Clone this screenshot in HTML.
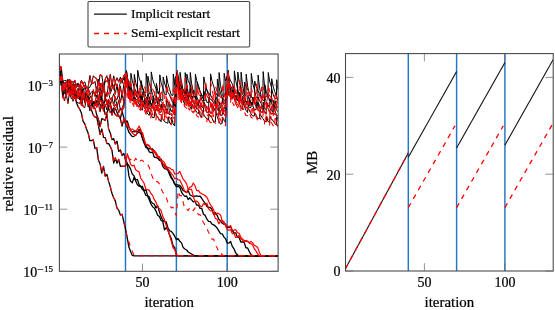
<!DOCTYPE html>
<html><head><meta charset="utf-8"><title>plot</title><style>
html,body{margin:0;padding:0;background:#fff;}
body{width:555px;height:310px;overflow:hidden;}
svg{display:block;}
.t{font-family:"Liberation Serif","DejaVu Serif",serif;font-size:14px;fill:#000;stroke:#000;stroke-width:0.22px;}
.sup{font-size:9px;}
.mn{font-size:11.5px;}
.lgt{font-size:13.4px;}
.al{font-size:14.9px;}
.k{fill:none;stroke:#000;stroke-width:1.0;stroke-linejoin:round;}
.r{fill:none;stroke:#ff0000;stroke-width:1.1;stroke-dasharray:5 5;stroke-linejoin:round;}
.rs{fill:none;stroke:#ff0000;stroke-width:1.2;stroke-linejoin:round;}
.kc{stroke-width:1.3;}
.k2{fill:none;stroke:#111;stroke-width:1.1;}
.r2{fill:none;stroke:#ff0000;stroke-width:1.3;stroke-dasharray:5 5;}
.bl{stroke:#1f77c6;stroke-width:1.45;}
.fr{fill:none;stroke:#444;stroke-width:1.05;}
.tk{stroke:#666;stroke-width:0.7;}
.lg{fill:#fff;stroke:#444;stroke-width:1.05;}
</style></head><body>
<svg width="555" height="310" viewBox="0 0 555 310">
<defs><clipPath id="cl"><rect x="59.4" y="54.0" width="218.7" height="217.3"/></clipPath>
<clipPath id="cr"><rect x="345.5" y="53.6" width="207.7" height="217.4"/></clipPath></defs>
<g clip-path="url(#cl)">
<line class="bl" x1="125.5" y1="54.0" x2="125.5" y2="271.3"/>
<line class="bl" x1="176.4" y1="54.0" x2="176.4" y2="271.3"/>
<line class="bl" x1="227.2" y1="54.0" x2="227.2" y2="271.3"/>
<polyline class="k" points="59.4,66.1 61.1,79.8 62.8,81.3 64.5,80.5 66.2,80.6 67.9,89.1 69.6,80.4 71.3,86.6 73.0,85.4 74.7,80.2 76.4,85.4 78.0,86.4 79.7,86.3 81.4,80.3 83.1,84.3 84.8,88.3 86.5,87.4 88.2,86.7 89.9,75.6 91.6,84.5 93.3,75.7 95.0,77.5 96.7,78.7 98.4,86.0 100.1,74.8 101.8,75.6 103.5,86.4 105.2,79.3 106.9,75.6 108.6,84.6 110.3,74.4 112.0,86.1 113.7,75.8 115.3,82.1 117.0,77.7 118.7,82.0 120.4,77.1 122.1,83.2 123.8,75.7 126.5,72.7 127.2,80.4 128.9,86.4 130.6,91.5 130.9,73.3 132.3,80.9 134.0,86.5 135.7,91.3 137.4,93.3 137.7,70.3 139.1,77.8 140.8,83.0 142.5,88.9 144.2,93.1 145.9,92.8 146.2,73.5 147.6,84.3 149.3,93.9 150.9,94.0 151.3,71.9 152.6,79.2 154.3,84.3 156.0,88.5 157.7,93.3 159.4,93.8 159.8,74.8 161.1,82.8 162.8,87.8 164.5,93.5 166.2,95.0 166.5,75.8 167.9,83.5 169.6,89.3 171.3,95.1 173.0,95.4 173.3,74.0 174.7,85.2 177.4,71.9 178.1,82.5 179.8,92.6 180.1,72.3 181.5,82.6 183.2,91.7 184.9,93.9 185.2,72.6 186.6,83.4 188.2,92.8 189.9,92.7 190.3,72.5 191.6,83.8 193.3,91.7 195.0,94.4 195.4,74.1 196.7,80.8 198.4,85.3 200.1,91.2 201.8,95.8 203.5,96.0 203.8,76.9 205.2,84.3 206.9,90.4 208.6,95.2 210.3,94.9 210.6,73.9 212.0,81.2 213.7,86.4 215.4,92.7 217.1,95.0 218.8,96.3 219.1,72.5 220.5,85.3 222.2,94.2 223.8,97.4 224.2,73.3 225.5,81.0 228.3,73.9 228.9,81.9 230.6,85.8 232.3,89.6 234.0,93.9 234.4,70.9 235.7,80.3 237.4,88.3 239.1,94.0 240.8,96.5 241.1,72.2 242.5,84.7 244.2,94.4 245.9,95.6 246.2,74.1 247.6,86.0 249.3,94.6 251.0,97.9 251.3,73.4 252.7,82.9 254.4,89.9 256.1,96.7 257.8,99.0 258.1,75.1 259.5,87.1 261.1,96.2 262.8,98.1 263.2,71.6 264.5,85.7 266.2,95.6 267.9,98.4 268.3,72.5 269.6,81.0 271.3,86.8 273.0,94.1 274.7,98.4 276.4,98.9 276.7,79.7 278.1,89.9"/>
<polyline class="k" points="59.4,66.1 61.1,82.3 62.8,90.5 64.5,82.7 66.2,84.2 67.9,80.0 69.6,91.7 71.3,81.4 73.0,82.2 74.7,80.5 76.4,87.4 78.0,82.9 79.7,88.3 81.4,81.1 83.1,83.3 84.8,81.9 86.5,88.2 88.2,88.8 89.9,87.1 91.6,83.3 93.3,83.4 95.0,81.5 96.7,91.2 98.4,79.3 100.1,90.1 101.8,83.3 103.5,89.3 105.2,81.4 106.9,81.1 108.6,78.8 110.3,90.7 112.0,81.9 113.7,89.3 115.3,81.8 117.0,88.5 118.7,91.1 120.4,81.5 122.1,78.2 123.8,80.1 126.5,71.4 127.2,76.5 128.9,82.9 130.6,87.4 132.3,90.3 134.0,94.1 134.3,74.4 135.7,82.5 137.4,88.6 139.1,95.1 140.8,97.3 141.1,80.6 142.5,87.2 144.2,91.9 145.9,96.5 147.6,99.5 147.9,76.2 149.3,83.6 150.9,88.4 152.6,94.5 154.3,99.1 156.0,99.5 156.4,83.4 157.7,90.3 159.4,95.0 161.1,99.6 162.8,100.5 163.2,77.0 164.5,83.0 166.2,88.1 167.9,92.2 169.6,94.9 171.3,99.7 173.0,102.8 174.7,102.1 175.0,78.4 177.4,73.3 178.1,79.9 179.8,83.4 181.5,87.1 183.2,89.9 184.9,92.5 186.6,95.7 186.9,74.1 188.2,80.5 189.9,84.5 191.6,89.8 193.3,94.3 195.0,97.4 196.7,100.2 197.1,81.8 198.4,87.7 200.1,92.2 201.8,95.9 203.5,99.9 205.2,100.5 205.5,86.0 206.9,89.8 208.6,93.3 210.3,94.4 212.0,98.0 213.7,99.6 215.4,103.1 217.1,104.0 217.4,79.0 218.8,86.8 220.5,93.2 222.2,98.1 223.8,103.7 225.5,102.7 225.9,81.4 228.3,72.0 228.9,76.9 230.6,80.9 232.3,83.9 234.0,88.9 235.7,92.6 237.4,93.8 237.8,72.1 239.1,81.4 240.8,87.7 242.5,94.8 244.2,95.9 244.5,82.0 245.9,86.3 247.6,89.3 249.3,92.6 251.0,95.8 252.7,98.4 254.4,98.7 254.7,81.0 256.1,86.2 257.8,90.6 259.5,93.5 261.1,97.1 262.8,100.4 264.5,100.3 264.9,84.8 266.2,91.2 267.9,95.9 269.6,100.2 271.3,102.3 271.7,78.7 273.0,86.1 274.7,91.4 276.4,96.5 278.1,100.9"/>
<polyline class="k" points="59.4,66.1 61.1,82.1 62.8,84.5 64.5,93.8 66.2,93.5 67.9,83.4 69.6,85.9 71.3,94.2 73.0,85.2 74.7,90.4 76.4,92.3 78.0,94.1 79.7,84.8 81.4,85.9 83.1,94.9 84.8,85.1 86.5,93.4 88.2,87.3 89.9,94.7 91.6,91.7 93.3,91.4 95.0,95.4 96.7,91.5 98.4,91.9 100.1,83.1 101.8,94.1 103.5,85.2 105.2,93.5 106.9,96.5 108.6,83.6 110.3,93.6 112.0,88.6 113.7,85.1 115.3,94.2 117.0,84.1 118.7,96.7 120.4,86.1 122.1,97.3 123.8,84.4 126.5,70.7 127.2,81.8 128.9,88.7 130.6,94.8 130.9,86.0 132.3,94.0 134.0,95.2 134.3,92.3 135.7,94.9 137.4,97.6 139.1,97.9 139.4,94.8 140.8,98.8 142.5,100.2 142.8,91.7 144.2,96.5 145.9,99.8 147.6,102.5 147.9,93.1 149.3,98.1 150.9,103.2 152.6,104.6 153.0,96.0 154.3,102.7 156.0,103.4 156.4,96.1 157.7,103.4 159.4,104.4 159.8,98.7 161.1,101.3 162.8,103.9 164.5,105.7 166.2,106.7 166.5,99.9 167.9,102.5 169.6,104.4 171.3,107.0 173.0,107.4 173.3,99.5 174.7,106.1 177.4,70.5 178.1,80.3 179.8,87.2 181.5,93.6 181.8,85.7 183.2,90.4 184.9,94.5 186.6,95.7 186.9,86.8 188.2,95.4 189.9,97.0 190.3,88.6 191.6,96.7 193.3,97.9 193.7,90.2 195.0,93.8 196.7,97.2 198.4,100.7 200.1,100.9 200.5,95.2 201.8,100.2 203.5,101.2 203.8,91.0 205.2,96.7 206.9,102.4 208.6,102.4 208.9,97.0 210.3,99.3 212.0,100.1 213.7,103.3 215.4,102.8 215.7,96.5 217.1,99.4 218.8,102.5 220.5,103.7 222.2,104.2 222.5,97.1 223.8,100.0 225.5,101.8 228.3,74.4 228.9,95.5 229.3,91.5 230.6,93.5 232.3,95.0 234.0,97.2 235.7,98.5 236.1,94.8 237.4,98.9 239.1,101.3 239.4,96.2 240.8,100.2 242.5,101.9 242.8,96.1 244.2,99.2 245.9,101.8 247.6,102.9 247.9,95.4 249.3,99.6 251.0,102.1 252.7,105.1 253.0,97.5 254.4,101.2 256.1,105.3 257.8,105.2 258.1,97.0 259.5,100.4 261.1,103.5 262.8,106.9 264.5,105.9 264.9,95.8 266.2,101.5 267.9,104.8 269.6,106.4 270.0,98.7 271.3,103.2 273.0,105.9 274.7,107.2 275.0,100.5 276.4,106.6 278.1,107.3"/>
<polyline class="k" points="59.4,66.1 61.1,80.4 62.8,85.0 64.5,84.6 66.2,92.7 67.9,87.8 69.6,94.7 71.3,85.9 73.0,93.8 74.7,86.5 76.4,96.9 78.0,88.3 79.7,95.4 81.4,86.0 83.1,88.3 84.8,97.2 86.5,90.8 88.2,90.4 89.9,95.7 91.6,98.5 93.3,89.7 95.0,96.6 96.7,87.4 98.4,100.1 100.1,90.3 101.8,98.5 103.5,88.2 105.2,96.9 106.9,92.4 108.6,93.0 110.3,99.5 112.0,98.9 113.7,93.7 115.3,98.5 117.0,99.6 118.7,93.5 120.4,102.7 122.1,92.2 123.8,103.4 126.5,71.4 127.2,85.8 128.9,95.2 129.2,86.0 130.6,91.1 132.3,95.1 134.0,99.0 134.3,90.8 135.7,94.1 137.4,97.7 139.1,100.6 140.8,102.2 141.1,95.6 142.5,99.3 144.2,103.1 145.9,104.2 146.2,100.0 147.6,104.1 149.3,105.2 149.6,97.2 150.9,104.7 152.6,105.6 153.0,99.6 154.3,103.5 156.0,106.8 157.7,106.9 158.1,97.7 159.4,103.3 161.1,108.7 162.8,108.6 163.2,104.4 164.5,107.0 166.2,109.2 167.9,110.2 168.2,102.6 169.6,106.7 171.3,111.2 173.0,110.5 173.3,100.9 174.7,106.2 177.4,72.6 178.1,82.9 179.8,89.4 181.5,97.8 181.8,88.8 183.2,96.7 184.9,99.4 185.2,90.3 186.6,98.8 188.2,101.1 188.6,93.1 189.9,96.6 191.6,100.1 193.3,102.4 195.0,104.0 195.4,95.8 196.7,103.8 198.4,105.9 198.8,99.9 200.1,103.3 201.8,107.2 203.5,108.1 203.8,101.6 205.2,105.0 206.9,108.0 208.6,109.0 208.9,98.8 210.3,103.0 212.0,106.3 213.7,108.4 215.4,109.7 215.7,102.2 217.1,109.5 218.8,110.7 219.1,102.1 220.5,106.9 222.2,111.4 223.8,111.6 224.2,106.7 225.5,108.8 228.3,74.2 228.9,85.1 230.6,91.9 232.3,98.4 232.7,89.3 234.0,93.1 235.7,97.4 237.4,99.4 239.1,102.1 239.4,92.5 240.8,97.8 242.5,102.9 244.2,103.0 244.5,96.5 245.9,100.8 247.6,105.1 249.3,106.0 249.6,97.9 251.0,105.2 252.7,105.7 253.0,97.3 254.4,102.6 256.1,106.4 257.8,109.0 258.1,102.5 259.5,105.7 261.1,108.2 262.8,110.0 263.2,102.0 264.5,108.5 266.2,109.5 266.6,102.5 267.9,105.6 269.6,107.4 271.3,110.9 273.0,111.4 273.4,100.3 274.7,106.0 276.4,109.8 278.1,111.8"/>
<polyline class="k" points="59.4,66.1 61.1,82.5 62.8,97.9 64.5,87.8 66.2,96.8 67.9,89.7 69.6,92.0 71.3,98.8 73.0,98.0 74.7,88.4 76.4,98.9 78.0,97.4 79.7,100.0 81.4,90.1 83.1,92.9 84.8,103.2 86.5,92.5 88.2,94.1 89.9,103.5 91.6,100.4 93.3,101.3 95.0,102.2 96.7,94.9 98.4,103.4 100.1,94.8 101.8,104.6 103.5,103.7 105.2,95.5 106.9,104.8 108.6,99.4 110.3,105.7 112.0,97.4 113.7,105.6 115.3,96.8 117.0,107.2 118.7,100.1 120.4,110.1 122.1,108.5 123.8,103.0 126.5,74.5 127.2,86.9 128.9,98.6 129.2,94.0 130.6,96.6 132.3,100.7 134.0,100.6 134.3,96.6 135.7,98.9 137.4,100.6 139.1,104.3 140.8,105.4 141.1,96.4 142.5,104.8 144.2,105.8 144.5,98.5 145.9,106.4 147.6,109.1 147.9,100.0 149.3,107.7 150.9,110.7 151.3,103.9 152.6,107.2 154.3,110.5 156.0,110.8 156.4,105.7 157.7,108.8 159.4,112.2 161.1,112.2 161.5,103.9 162.8,108.6 164.5,112.0 166.2,113.4 166.5,108.8 167.9,113.1 169.6,114.9 169.9,108.8 171.3,111.0 173.0,111.7 174.7,114.9 177.4,72.1 178.1,81.2 179.8,91.0 181.5,98.4 181.8,92.2 183.2,95.8 184.9,100.3 186.6,101.2 186.9,94.5 188.2,99.1 189.9,104.5 191.6,106.6 192.0,96.0 193.3,101.5 195.0,105.4 196.7,109.3 197.1,101.7 198.4,104.6 200.1,107.0 201.8,111.2 203.5,112.5 203.8,103.0 205.2,107.7 206.9,112.8 208.6,112.5 208.9,108.3 210.3,112.9 212.0,113.3 212.3,103.9 213.7,108.2 215.4,111.5 217.1,113.9 218.8,115.3 219.1,107.5 220.5,114.9 222.2,115.4 222.5,111.8 223.8,114.4 225.5,115.7 228.3,70.5 228.9,81.4 230.6,88.4 232.3,97.0 232.7,89.7 234.0,93.7 235.7,98.4 237.4,99.5 237.8,92.3 239.1,97.0 240.8,100.9 242.5,102.7 242.8,99.4 244.2,103.8 245.9,105.5 246.2,101.2 247.6,103.9 249.3,107.8 251.0,107.5 251.3,102.2 252.7,105.6 254.4,109.7 256.1,109.8 256.4,101.0 257.8,104.8 259.5,107.7 261.1,112.2 262.8,112.2 263.2,107.5 264.5,111.8 266.2,113.5 266.6,104.8 267.9,108.2 269.6,110.8 271.3,113.7 273.0,113.7 273.4,104.1 274.7,109.7 276.4,115.4 278.1,115.9"/>
<polyline class="k" points="59.4,66.1 61.1,80.2 62.8,92.6 64.5,101.0 66.2,93.6 67.9,103.4 69.6,91.7 71.3,91.7 73.0,101.3 74.7,96.7 76.4,101.7 78.0,102.8 79.7,103.5 81.4,98.6 83.1,106.5 84.8,107.7 86.5,96.5 88.2,107.0 89.9,96.8 91.6,97.0 93.3,108.6 95.0,102.7 96.7,107.3 98.4,103.4 100.1,111.7 101.8,101.6 103.5,111.2 105.2,104.3 106.9,109.9 108.6,101.8 110.3,102.3 112.0,115.3 113.7,107.9 115.3,104.8 117.0,106.0 118.7,112.7 120.4,108.1 122.1,110.4 123.8,107.5 126.5,70.8 127.2,82.1 128.9,90.9 130.6,98.0 130.9,95.1 132.3,99.6 134.0,101.6 134.3,95.6 135.7,100.2 137.4,106.3 139.1,106.6 139.4,103.8 140.8,108.4 142.5,110.2 142.8,104.3 144.2,107.4 145.9,110.3 147.6,113.9 149.3,115.3 149.6,111.7 150.9,114.2 152.6,117.7 154.3,117.4 154.7,110.7 156.0,114.0 157.7,117.5 159.4,119.0 161.1,121.7 161.5,117.1 162.8,119.1 164.5,121.7 166.2,122.6 167.9,123.2 168.2,116.8 169.6,123.1 171.3,123.9 171.6,117.1 173.0,123.9 174.7,126.0 175.0,115.1 177.4,72.6 178.1,87.6 179.8,98.1 180.1,93.1 181.5,96.5 183.2,100.7 184.9,104.7 185.2,97.6 186.6,100.6 188.2,104.5 189.9,106.6 191.6,109.3 192.0,104.2 193.3,106.9 195.0,109.3 196.7,112.2 198.4,113.9 198.8,109.8 200.1,114.7 201.8,117.6 202.1,112.4 203.5,114.4 205.2,116.9 206.9,119.0 208.6,120.1 208.9,113.7 210.3,116.3 212.0,118.2 213.7,122.3 215.4,121.8 215.7,111.8 217.1,116.2 218.8,120.9 220.5,124.2 222.2,123.3 222.5,116.9 223.8,119.9 225.5,122.7 228.3,70.6 228.9,82.0 230.6,88.5 232.3,96.7 232.7,89.4 234.0,98.5 235.7,101.9 236.1,97.9 237.4,100.2 239.1,102.4 240.8,107.2 242.5,109.5 242.8,101.6 244.2,106.0 245.9,110.0 247.6,112.5 247.9,107.7 249.3,110.1 251.0,113.8 252.7,116.1 254.4,115.9 254.7,112.7 256.1,115.2 257.8,118.8 259.5,118.6 259.8,113.5 261.1,116.0 262.8,118.5 264.5,121.1 266.2,122.0 266.6,116.0 267.9,121.3 269.6,122.5 270.0,116.9 271.3,119.4 273.0,120.4 274.7,123.2 276.4,125.3 276.7,116.6 278.1,119.8"/>
<polyline class="k kc" points="59.4,66.1 61.1,79.3 62.8,85.6 64.5,85.4 66.2,84.0 67.9,79.5 69.6,84.6 71.3,94.5 73.0,94.0 74.7,93.6 76.4,102.5 78.0,106.5 79.7,109.2 81.4,113.1 83.1,121.3 84.8,123.9 86.5,128.9 88.2,133.3 89.9,140.7 91.6,140.6 93.3,139.8 95.0,148.7 96.7,147.7 98.4,159.9 100.1,163.9 101.8,173.2 103.5,166.3 105.2,176.2 106.9,174.5 108.6,181.4 110.3,186.8 112.0,193.5 113.7,197.7 115.3,200.9 117.0,208.1 118.7,210.1 120.4,215.0 122.1,214.3 123.8,221.8 125.5,229.0 127.2,237.7 128.9,247.1 130.6,251.5 132.3,255.4 134.0,255.8 135.7,255.8 137.4,255.8 139.1,255.8 140.8,255.8 142.5,255.8 144.2,255.8 145.9,255.8 147.6,255.8 149.3,255.8 150.9,255.8 152.6,255.8 154.3,255.8 156.0,255.8 157.7,255.8 159.4,255.8 161.1,255.8 162.8,255.8 164.5,255.8 166.2,255.8 167.9,255.8 169.6,255.8 171.3,255.8 173.0,255.8 174.7,255.8 176.4,255.8 178.1,255.8 179.8,255.8 181.5,255.8 183.2,255.8 184.9,255.8 186.6,255.8 188.2,255.8 189.9,255.8 191.6,255.8 193.3,255.8 195.0,255.8 196.7,255.8 198.4,255.8 200.1,255.8 201.8,255.8 203.5,255.8 205.2,255.8 206.9,255.8 208.6,255.8 210.3,255.8 212.0,255.8 213.7,255.8 215.4,255.8 217.1,255.8 218.8,255.8 220.5,255.8 222.2,255.8 223.8,255.8 225.5,255.8 227.2,255.8 228.9,255.8 230.6,255.8 232.3,255.8 234.0,255.8 235.7,255.8 237.4,255.8 239.1,255.8 240.8,255.8 242.5,255.8 244.2,255.8 245.9,255.8 247.6,255.8 249.3,255.8 251.0,255.8 252.7,255.8 254.4,255.8 256.1,255.8 257.8,255.8 259.5,255.8 261.1,255.8 262.8,255.8 264.5,255.8 266.2,255.8 267.9,255.8 269.6,255.8 271.3,255.8 273.0,255.8 274.7,255.8 276.4,255.8 278.1,255.8"/>
<polyline class="k kc" points="59.4,66.1 61.1,84.9 62.8,83.1 64.5,85.1 66.2,82.2 67.9,82.6 69.6,79.6 71.3,81.6 73.0,90.5 74.7,90.9 76.4,94.4 78.0,92.5 79.7,96.5 81.4,88.4 83.1,99.4 84.8,99.2 86.5,96.5 88.2,100.4 89.9,105.7 91.6,110.4 93.3,115.1 95.0,117.1 96.7,117.1 98.4,125.6 100.1,134.4 101.8,128.9 103.5,137.4 105.2,137.6 106.9,143.5 108.6,143.7 110.3,146.6 112.0,150.6 113.7,163.0 115.3,157.8 117.0,163.2 118.7,159.3 120.4,166.3 122.1,166.1 123.8,166.4 125.5,165.9 127.2,163.3 128.9,165.8 130.6,169.1 132.3,174.1 134.0,175.8 135.7,180.0 137.4,179.4 139.1,184.7 140.8,186.3 142.5,189.7 144.2,190.5 145.9,189.6 147.6,195.6 149.3,196.9 150.9,201.6 152.6,203.3 154.3,204.2 156.0,208.0 157.7,205.6 159.4,211.8 161.1,216.9 162.8,220.2 164.5,221.6 166.2,221.9 167.9,227.8 169.6,230.8 171.3,231.3 173.0,233.4 174.7,236.2 176.4,239.6 178.1,238.6 179.8,241.3 181.5,242.9 183.2,247.6 184.9,249.0 186.6,250.0 188.2,252.0 189.9,253.0 191.6,254.0 193.3,255.1 195.0,255.8 196.7,255.8 198.4,255.8 200.1,255.8 201.8,255.8 203.5,255.8 205.2,255.8 206.9,255.8 208.6,255.8 210.3,255.8 212.0,255.8 213.7,255.8 215.4,255.8 217.1,255.8 218.8,255.8 220.5,255.8 222.2,255.8 223.8,255.8 225.5,255.8 227.2,255.8 228.9,255.8 230.6,255.8 232.3,255.8 234.0,255.8 235.7,255.8 237.4,255.8 239.1,255.8 240.8,255.8 242.5,255.8 244.2,255.8 245.9,255.8 247.6,255.8 249.3,255.8 251.0,255.8 252.7,255.8 254.4,255.8 256.1,255.8 257.8,255.8 259.5,255.8 261.1,255.8 262.8,255.8 264.5,255.8 266.2,255.8 267.9,255.8 269.6,255.8 271.3,255.8 273.0,255.8 274.7,255.8 276.4,255.8 278.1,255.8"/>
<polyline class="k kc" points="59.4,66.1 61.1,76.6 62.8,84.7 64.5,85.8 66.2,86.5 67.9,87.8 69.6,87.9 71.3,82.8 73.0,89.2 74.7,98.2 76.4,97.9 78.0,94.9 79.7,98.5 81.4,101.6 83.1,92.3 84.8,97.8 86.5,99.0 88.2,99.8 89.9,102.4 91.6,102.7 93.3,107.2 95.0,108.2 96.7,114.8 98.4,119.1 100.1,126.7 101.8,118.6 103.5,119.4 105.2,120.4 106.9,114.0 108.6,129.0 110.3,132.9 112.0,139.7 113.7,138.6 115.3,144.0 117.0,141.2 118.7,151.4 120.4,149.9 122.1,155.5 123.8,153.4 125.5,159.8 127.2,163.0 128.9,175.9 130.6,181.3 132.3,182.9 134.0,177.4 135.7,181.1 137.4,184.7 139.1,186.2 140.8,186.6 142.5,186.5 144.2,191.5 145.9,195.4 147.6,196.0 149.3,199.7 150.9,204.0 152.6,206.7 154.3,208.0 156.0,211.1 157.7,215.2 159.4,216.6 161.1,220.5 162.8,221.5 164.5,229.9 166.2,227.7 167.9,230.3 169.6,234.7 171.3,238.8 173.0,245.4 174.7,247.7 176.4,254.8 178.1,255.8 179.8,255.8 181.5,255.8 183.2,255.8 184.9,255.8 186.6,255.8 188.2,255.8 189.9,255.8 191.6,255.8 193.3,255.8 195.0,255.8 196.7,255.8 198.4,255.8 200.1,255.8 201.8,255.8 203.5,255.8 205.2,255.8 206.9,255.8 208.6,255.8 210.3,255.8 212.0,255.8 213.7,255.8 215.4,255.8 217.1,255.8 218.8,255.8 220.5,255.8 222.2,255.8 223.8,255.8 225.5,255.8 227.2,255.8 228.9,255.8 230.6,255.8 232.3,255.8 234.0,255.8 235.7,255.8 237.4,255.8 239.1,255.8 240.8,255.8 242.5,255.8 244.2,255.8 245.9,255.8 247.6,255.8 249.3,255.8 251.0,255.8 252.7,255.8 254.4,255.8 256.1,255.8 257.8,255.8 259.5,255.8 261.1,255.8 262.8,255.8 264.5,255.8 266.2,255.8 267.9,255.8 269.6,255.8 271.3,255.8 273.0,255.8 274.7,255.8 276.4,255.8 278.1,255.8"/>
<polyline class="k kc" points="59.4,66.1 61.1,67.0 62.8,81.0 64.5,85.8 66.2,83.8 67.9,86.0 69.6,94.2 71.3,89.6 73.0,94.4 74.7,87.4 76.4,93.6 78.0,91.2 79.7,90.0 81.4,92.2 83.1,99.5 84.8,99.1 86.5,100.3 88.2,100.5 89.9,110.6 91.6,103.5 93.3,103.1 95.0,105.5 96.7,100.7 98.4,104.0 100.1,101.2 101.8,98.3 103.5,105.2 105.2,99.5 106.9,100.1 108.6,107.5 110.3,105.0 112.0,109.2 113.7,111.5 115.3,107.9 117.0,112.6 118.7,115.9 120.4,118.5 122.1,110.8 123.8,118.1 125.5,121.3 127.2,121.0 128.9,126.2 130.6,130.7 132.3,131.7 134.0,131.8 135.7,131.5 137.4,132.1 139.1,129.4 140.8,131.2 142.5,139.1 144.2,142.8 145.9,145.4 147.6,148.0 149.3,148.6 150.9,149.2 152.6,148.9 154.3,151.7 156.0,153.3 157.7,156.6 159.4,160.5 161.1,159.2 162.8,164.1 164.5,165.2 166.2,166.6 167.9,169.2 169.6,172.7 171.3,176.7 173.0,180.1 174.7,183.9 176.4,186.7 178.1,186.4 179.8,187.3 181.5,192.1 183.2,194.6 184.9,196.4 186.6,196.0 188.2,199.6 189.9,197.8 191.6,199.9 193.3,201.9 195.0,201.0 196.7,205.2 198.4,205.0 200.1,208.4 201.8,208.5 203.5,214.2 205.2,215.4 206.9,219.2 208.6,221.3 210.3,221.7 212.0,224.1 213.7,224.9 215.4,226.1 217.1,228.0 218.8,230.8 220.5,233.7 222.2,233.8 223.8,236.9 225.5,238.6 227.2,243.0 228.9,243.1 230.6,241.5 232.3,246.4 234.0,248.8 235.7,253.0 237.4,254.7 239.1,255.8 240.8,255.8 242.5,255.8 244.2,255.8 245.9,255.8 247.6,255.8 249.3,255.8 251.0,255.8 252.7,255.8 254.4,255.8 256.1,255.8 257.8,255.8 259.5,255.8 261.1,255.8 262.8,255.8 264.5,255.8 266.2,255.8 267.9,255.8 269.6,255.8 271.3,255.8 273.0,255.8 274.7,255.8 276.4,255.8 278.1,255.8"/>
<polyline class="k kc" points="59.4,66.1 61.1,78.2 62.8,85.1 64.5,87.4 66.2,84.5 67.9,84.8 69.6,84.1 71.3,83.4 73.0,88.2 74.7,84.5 76.4,93.3 78.0,95.6 79.7,95.4 81.4,105.1 83.1,89.5 84.8,96.9 86.5,92.3 88.2,98.4 89.9,101.3 91.6,99.9 93.3,102.3 95.0,102.6 96.7,105.2 98.4,101.7 100.1,104.5 101.8,107.9 103.5,107.0 105.2,114.4 106.9,112.7 108.6,108.2 110.3,112.6 112.0,111.7 113.7,111.4 115.3,114.5 117.0,115.9 118.7,115.6 120.4,118.8 122.1,126.1 123.8,119.5 125.5,123.4 127.2,127.4 128.9,132.2 130.6,134.5 132.3,136.6 134.0,136.3 135.7,135.3 137.4,133.0 139.1,132.2 140.8,133.5 142.5,137.7 144.2,143.0 145.9,147.4 147.6,148.4 149.3,151.9 150.9,152.6 152.6,152.0 154.3,157.3 156.0,157.3 157.7,158.5 159.4,159.5 161.1,161.1 162.8,166.3 164.5,168.7 166.2,169.0 167.9,170.2 169.6,174.6 171.3,178.2 173.0,180.3 174.7,184.0 176.4,184.6 178.1,185.0 179.8,185.3 181.5,187.6 183.2,190.6 184.9,191.2 186.6,192.6 188.2,190.8 189.9,194.7 191.6,195.7 193.3,196.6 195.0,196.2 196.7,195.8 198.4,196.4 200.1,196.1 201.8,198.5 203.5,201.1 205.2,203.3 206.9,206.4 208.6,207.6 210.3,207.3 212.0,209.5 213.7,214.5 215.4,212.6 217.1,215.3 218.8,219.3 220.5,220.7 222.2,223.3 223.8,224.2 225.5,224.0 227.2,227.3 228.9,227.7 230.6,226.4 232.3,230.6 234.0,232.8 235.7,232.8 237.4,237.0 239.1,237.5 240.8,242.0 242.5,241.8 244.2,242.4 245.9,247.8 247.6,247.9 249.3,251.6 251.0,254.4 252.7,255.8 254.4,255.8 256.1,255.8 257.8,255.8 259.5,255.8 261.1,255.8 262.8,255.8 264.5,255.8 266.2,255.8 267.9,255.8 269.6,255.8 271.3,255.8 273.0,255.8 274.7,255.8 276.4,255.8 278.1,255.8"/>
<polyline class="r" points="59.4,66.1 61.1,79.8 62.8,81.3 64.5,80.5 66.2,80.6 67.9,89.1 69.6,80.4 71.3,86.6 73.0,85.4 74.7,80.2 76.4,85.4 78.0,86.4 79.7,86.3 81.4,80.3 83.1,84.3 84.8,88.3 86.5,87.4 88.2,86.7 89.9,75.6 91.6,84.5 93.3,75.7 95.0,77.5 96.7,78.7 98.4,86.0 100.1,74.8 101.8,75.6 103.5,86.4 105.2,79.3 106.9,75.6 108.6,84.6 110.3,74.4 112.0,86.1 113.7,75.8 115.3,82.1 117.0,77.7 118.7,82.0 120.4,77.1 122.1,83.2 123.8,75.7 126.5,72.7 127.2,86.6 128.9,95.8 129.2,79.2 130.6,88.1 132.3,95.7 134.0,96.1 134.3,80.9 135.7,89.7 137.4,95.7 139.1,98.2 139.4,89.1 140.8,94.1 142.5,97.3 144.2,98.2 144.5,86.5 145.9,91.7 147.6,96.3 149.3,99.9 150.9,101.6 151.3,83.5 152.6,89.0 154.3,92.4 156.0,97.4 157.7,100.2 159.4,102.3 159.8,84.8 161.1,91.4 162.8,95.8 164.5,99.8 166.2,101.5 166.5,84.4 167.9,90.1 169.6,94.6 171.3,97.7 173.0,102.2 174.7,103.1 175.0,91.2 177.4,71.1 178.1,83.9 179.8,93.4 180.1,77.8 181.5,86.4 183.2,92.0 184.9,95.1 185.2,78.4 186.6,85.0 188.2,91.4 189.9,94.9 191.6,95.1 192.0,85.0 193.3,90.9 195.0,94.3 196.7,95.5 197.1,85.3 198.4,89.0 200.1,92.6 201.8,94.1 203.5,96.8 205.2,98.4 205.5,81.3 206.9,89.9 208.6,95.9 210.3,96.7 210.6,81.5 212.0,90.1 213.7,96.8 215.4,99.0 215.7,87.0 217.1,91.4 218.8,94.3 220.5,97.2 222.2,97.9 222.5,83.2 223.8,91.3 225.5,97.4 228.3,72.1 228.9,81.7 230.6,86.9 232.3,90.4 234.0,95.5 234.4,86.9 235.7,92.1 237.4,96.9 239.1,97.4 239.4,80.4 240.8,87.4 242.5,94.0 244.2,98.8 245.9,98.9 246.2,86.2 247.6,93.2 249.3,98.1 251.0,99.1 251.3,87.5 252.7,94.2 254.4,99.5 256.1,100.0 256.4,84.1 257.8,90.8 259.5,95.3 261.1,100.5 262.8,101.0 263.2,87.2 264.5,94.8 266.2,101.5 267.9,101.6 268.3,84.4 269.6,91.4 271.3,95.7 273.0,102.6 274.7,102.9 275.0,92.1 276.4,96.2 278.1,100.1"/>
<polyline class="r" points="59.4,66.1 61.1,82.3 62.8,90.5 64.5,82.7 66.2,84.2 67.9,80.0 69.6,91.7 71.3,81.4 73.0,82.2 74.7,80.5 76.4,87.4 78.0,82.9 79.7,88.3 81.4,81.1 83.1,83.3 84.8,81.9 86.5,88.2 88.2,88.8 89.9,87.1 91.6,83.3 93.3,83.4 95.0,81.5 96.7,91.2 98.4,79.3 100.1,90.1 101.8,83.3 103.5,89.3 105.2,81.4 106.9,81.1 108.6,78.8 110.3,90.7 112.0,81.9 113.7,89.3 115.3,81.8 117.0,88.5 118.7,91.1 120.4,81.5 122.1,78.2 123.8,80.1 126.5,73.2 127.2,83.5 128.9,90.8 130.6,97.0 130.9,83.0 132.3,87.9 134.0,91.3 135.7,95.0 137.4,98.9 139.1,101.2 139.4,84.2 140.8,89.8 142.5,94.1 144.2,97.5 145.9,100.8 147.6,104.2 147.9,85.2 149.3,92.4 150.9,97.1 152.6,103.8 154.3,105.2 154.7,90.9 156.0,98.2 157.7,105.1 159.4,106.2 159.8,90.3 161.1,98.3 162.8,104.7 164.5,104.9 164.9,92.7 166.2,97.1 167.9,101.1 169.6,102.3 171.3,106.3 173.0,107.9 173.3,89.1 174.7,94.9 177.4,74.3 178.1,85.7 179.8,92.8 181.5,99.0 181.8,82.5 183.2,91.1 184.9,97.1 186.6,99.4 186.9,85.5 188.2,93.5 189.9,99.3 191.6,102.5 192.0,88.3 193.3,95.5 195.0,101.6 196.7,103.6 197.1,88.0 198.4,92.9 200.1,97.0 201.8,99.5 203.5,104.4 205.2,103.7 205.5,91.8 206.9,95.9 208.6,98.7 210.3,101.3 212.0,105.3 213.7,105.1 214.0,90.1 215.4,98.2 217.1,104.9 218.8,106.2 219.1,92.6 220.5,99.7 222.2,106.0 223.8,107.2 224.2,93.6 225.5,97.8 228.3,71.7 228.9,83.0 230.6,88.3 232.3,95.0 232.7,84.9 234.0,88.8 235.7,93.1 237.4,95.4 239.1,97.4 240.8,100.3 241.1,84.8 242.5,92.8 244.2,99.0 245.9,101.3 246.2,83.5 247.6,89.3 249.3,93.1 251.0,98.4 252.7,100.9 254.4,102.8 254.7,92.1 256.1,96.6 257.8,99.5 259.5,102.3 261.1,103.2 261.5,87.3 262.8,94.1 264.5,99.8 266.2,104.2 267.9,104.1 268.3,91.1 269.6,95.7 271.3,98.3 273.0,101.5 274.7,104.9 276.4,105.0 276.7,96.6 278.1,100.4"/>
<polyline class="r" points="59.4,66.1 61.1,82.1 62.8,84.5 64.5,93.8 66.2,93.5 67.9,83.4 69.6,85.9 71.3,94.2 73.0,85.2 74.7,90.4 76.4,92.3 78.0,94.1 79.7,84.8 81.4,85.9 83.1,94.9 84.8,85.1 86.5,93.4 88.2,87.3 89.9,94.7 91.6,91.7 93.3,91.4 95.0,95.4 96.7,91.5 98.4,91.9 100.1,83.1 101.8,94.1 103.5,85.2 105.2,93.5 106.9,96.5 108.6,83.6 110.3,93.6 112.0,88.6 113.7,85.1 115.3,94.2 117.0,84.1 118.7,96.7 120.4,86.1 122.1,97.3 123.8,84.4 126.5,75.5 127.2,86.6 128.9,94.6 130.6,102.4 130.9,95.1 132.3,97.8 134.0,100.8 135.7,101.9 137.4,103.2 137.7,92.5 139.1,102.7 140.8,104.0 141.1,99.7 142.5,102.7 144.2,106.6 145.9,106.6 146.2,98.7 147.6,101.9 149.3,105.3 150.9,107.2 152.6,106.9 153.0,103.0 154.3,105.6 156.0,107.6 157.7,108.8 158.1,96.5 159.4,103.0 161.1,108.4 162.8,109.9 163.2,102.2 164.5,106.0 166.2,108.0 167.9,110.2 168.2,98.8 169.6,103.2 171.3,105.8 173.0,110.7 174.7,111.3 175.0,100.3 177.4,73.6 178.1,98.7 178.4,90.1 179.8,97.5 181.5,99.6 181.8,94.2 183.2,97.5 184.9,100.2 186.6,102.0 186.9,90.5 188.2,96.8 189.9,102.1 191.6,103.5 192.0,98.2 193.3,103.4 195.0,104.2 195.4,99.4 196.7,102.5 198.4,106.3 200.1,105.5 200.5,96.5 201.8,105.1 203.5,107.2 203.8,102.2 205.2,104.8 206.9,107.0 208.6,107.0 208.9,99.0 210.3,106.8 212.0,108.2 212.3,96.4 213.7,102.9 215.4,108.3 217.1,108.8 217.4,104.4 218.8,106.9 220.5,109.5 222.2,108.9 222.5,101.2 223.8,104.6 225.5,106.6 228.3,72.7 228.9,88.9 230.6,97.4 231.0,91.1 232.3,95.3 234.0,100.3 235.7,101.5 236.1,89.9 237.4,96.0 239.1,100.2 240.8,101.8 241.1,93.7 242.5,102.0 244.2,105.0 244.5,97.3 245.9,103.4 247.6,103.9 247.9,99.7 249.3,102.0 251.0,105.2 252.7,105.5 254.4,106.7 254.7,95.2 256.1,99.9 257.8,103.5 259.5,107.2 261.1,108.7 261.5,100.3 262.8,107.1 264.5,107.3 264.9,100.5 266.2,104.8 267.9,107.5 269.6,110.0 270.0,103.4 271.3,105.8 273.0,106.5 274.7,108.7 276.4,109.1 276.7,100.7 278.1,104.4"/>
<polyline class="r" points="59.4,66.1 61.1,80.4 62.8,85.0 64.5,84.6 66.2,92.7 67.9,87.8 69.6,94.7 71.3,85.9 73.0,93.8 74.7,86.5 76.4,96.9 78.0,88.3 79.7,95.4 81.4,86.0 83.1,88.3 84.8,97.2 86.5,90.8 88.2,90.4 89.9,95.7 91.6,98.5 93.3,89.7 95.0,96.6 96.7,87.4 98.4,100.1 100.1,90.3 101.8,98.5 103.5,88.2 105.2,96.9 106.9,92.4 108.6,93.0 110.3,99.5 112.0,98.9 113.7,93.7 115.3,98.5 117.0,99.6 118.7,93.5 120.4,102.7 122.1,92.2 123.8,103.4 126.5,75.2 127.2,85.6 128.9,94.1 130.6,102.3 130.9,92.4 132.3,101.6 134.0,104.5 134.3,93.9 135.7,103.5 137.4,107.3 137.7,99.0 139.1,103.1 140.8,108.3 142.5,107.3 142.8,102.4 144.2,105.9 145.9,109.6 147.6,110.5 147.9,104.3 149.3,107.7 150.9,109.7 152.6,112.2 153.0,102.3 154.3,110.8 156.0,112.8 156.4,102.3 157.7,111.5 159.4,113.6 159.8,104.0 161.1,112.4 162.8,114.9 163.2,102.1 164.5,112.6 166.2,115.0 166.5,110.0 167.9,112.0 169.6,112.4 171.3,114.6 173.0,114.9 173.3,110.1 174.7,113.1 177.4,71.9 178.1,88.2 179.8,99.3 180.1,88.1 181.5,94.2 183.2,99.3 184.9,101.1 185.2,93.9 186.6,98.9 188.2,104.8 189.9,106.1 190.3,95.4 191.6,104.9 193.3,107.0 193.7,100.4 195.0,104.5 196.7,107.6 198.4,109.8 198.8,99.8 200.1,105.4 201.8,111.2 203.5,110.9 203.8,104.3 205.2,108.5 206.9,111.8 208.6,112.9 208.9,108.6 210.3,112.9 212.0,113.7 212.3,102.2 213.7,112.7 215.4,114.3 215.7,108.1 217.1,110.9 218.8,112.6 220.5,115.4 222.2,116.5 222.5,104.9 223.8,111.0 225.5,116.1 228.3,73.6 228.9,88.4 230.6,100.7 231.0,92.2 232.3,99.4 234.0,101.5 234.4,94.0 235.7,101.5 237.4,103.2 237.8,93.5 239.1,99.3 240.8,104.4 242.5,106.6 242.8,99.7 244.2,103.5 245.9,107.2 247.6,108.6 247.9,102.6 249.3,105.1 251.0,107.0 252.7,110.8 254.4,111.0 254.7,102.6 256.1,105.9 257.8,109.1 259.5,110.6 261.1,112.4 261.5,107.0 262.8,109.9 264.5,112.8 266.2,114.2 266.6,107.0 267.9,109.6 269.6,110.5 271.3,114.1 273.0,113.3 273.4,108.7 274.7,111.0 276.4,112.8 278.1,115.2"/>
<polyline class="r" points="59.4,66.1 61.1,82.5 62.8,97.9 64.5,87.8 66.2,96.8 67.9,89.7 69.6,92.0 71.3,98.8 73.0,98.0 74.7,88.4 76.4,98.9 78.0,97.4 79.7,100.0 81.4,90.1 83.1,92.9 84.8,103.2 86.5,92.5 88.2,94.1 89.9,103.5 91.6,100.4 93.3,101.3 95.0,102.2 96.7,94.9 98.4,103.4 100.1,94.8 101.8,104.6 103.5,103.7 105.2,95.5 106.9,104.8 108.6,99.4 110.3,105.7 112.0,97.4 113.7,105.6 115.3,96.8 117.0,107.2 118.7,100.1 120.4,110.1 122.1,108.5 123.8,103.0 126.5,75.1 127.2,86.3 128.9,96.1 130.6,104.0 130.9,96.3 132.3,103.2 134.0,106.4 134.3,100.3 135.7,102.8 137.4,106.7 139.1,108.8 140.8,110.3 141.1,103.3 142.5,107.2 144.2,111.7 145.9,113.6 146.2,103.2 147.6,107.1 149.3,109.4 150.9,113.9 152.6,114.2 153.0,105.5 154.3,110.8 156.0,115.3 157.7,116.2 158.1,112.3 159.4,114.2 161.1,115.0 162.8,118.5 164.5,117.3 164.9,107.3 166.2,111.8 167.9,114.9 169.6,117.7 171.3,119.5 171.6,115.0 173.0,117.5 174.7,118.8 177.4,74.4 178.1,99.8 178.4,90.4 179.8,99.4 181.5,102.2 181.8,95.7 183.2,102.6 184.9,106.0 185.2,97.9 186.6,105.1 188.2,106.8 188.6,99.4 189.9,103.0 191.6,105.4 193.3,108.8 195.0,112.1 195.4,102.6 196.7,107.6 198.4,111.0 200.1,113.2 200.5,103.4 201.8,109.1 203.5,114.7 205.2,114.3 205.5,107.7 206.9,114.7 208.6,116.4 208.9,107.1 210.3,115.5 212.0,117.3 212.3,111.1 213.7,116.8 215.4,118.9 215.7,107.5 217.1,116.9 218.8,117.7 219.1,107.7 220.5,113.7 222.2,117.9 223.8,119.7 224.2,113.7 225.5,116.2 228.3,70.8 228.9,82.3 230.6,90.2 232.3,99.8 232.7,90.7 234.0,95.0 235.7,98.8 237.4,103.2 239.1,106.9 239.4,98.3 240.8,102.9 242.5,107.6 244.2,110.3 244.5,104.5 245.9,106.9 247.6,109.8 249.3,110.9 251.0,112.5 251.3,108.4 252.7,110.6 254.4,112.5 256.1,115.3 257.8,115.2 258.1,105.7 259.5,111.5 261.1,116.4 262.8,117.9 263.2,111.4 264.5,114.1 266.2,116.3 267.9,118.9 269.6,120.7 270.0,111.8 271.3,118.8 273.0,120.8 273.4,112.2 274.7,116.7 276.4,121.0 278.1,120.5"/>
<polyline class="r" points="59.4,66.1 61.1,80.2 62.8,92.6 64.5,101.0 66.2,93.6 67.9,103.4 69.6,91.7 71.3,91.7 73.0,101.3 74.7,96.7 76.4,101.7 78.0,102.8 79.7,103.5 81.4,98.6 83.1,106.5 84.8,107.7 86.5,96.5 88.2,107.0 89.9,96.8 91.6,97.0 93.3,108.6 95.0,102.7 96.7,107.3 98.4,103.4 100.1,111.7 101.8,101.6 103.5,111.2 105.2,104.3 106.9,109.9 108.6,101.8 110.3,102.3 112.0,115.3 113.7,107.9 115.3,104.8 117.0,106.0 118.7,112.7 120.4,108.1 122.1,110.4 123.8,107.5 126.5,71.7 127.2,87.2 128.9,98.3 129.2,95.0 130.6,98.3 132.3,103.2 134.0,104.7 134.3,99.2 135.7,102.0 137.4,104.5 139.1,107.6 140.8,109.8 141.1,103.9 142.5,107.0 144.2,109.9 145.9,113.4 147.6,115.7 147.9,104.7 149.3,114.3 150.9,118.0 151.3,110.1 152.6,114.1 154.3,117.9 156.0,119.8 156.4,113.3 157.7,116.7 159.4,120.7 161.1,122.2 161.5,111.8 162.8,120.1 164.5,122.2 164.9,113.1 166.2,116.9 167.9,119.2 169.6,123.7 171.3,124.8 171.6,113.8 173.0,119.3 174.7,122.6 177.4,73.0 178.1,85.6 179.8,94.1 181.5,102.8 181.8,99.7 183.2,102.3 184.9,106.9 186.6,108.2 186.9,100.6 188.2,108.3 189.9,110.1 190.3,101.6 191.6,110.9 193.3,112.8 193.7,105.0 195.0,110.2 196.7,115.7 198.4,117.2 198.8,112.5 200.1,115.4 201.8,118.8 203.5,118.9 203.8,114.1 205.2,119.6 206.9,121.7 207.2,116.3 208.6,119.3 210.3,122.7 212.0,122.2 212.3,118.7 213.7,120.7 215.4,123.3 217.1,125.7 218.8,124.4 219.1,115.9 220.5,119.8 222.2,123.1 223.8,126.2 225.5,125.8 225.9,120.3 228.3,74.2 228.9,89.3 230.6,102.2 231.0,92.6 232.3,102.0 234.0,105.6 234.4,101.6 235.7,103.8 237.4,107.0 239.1,110.2 240.8,111.5 241.1,102.1 242.5,106.3 244.2,111.5 245.9,115.5 247.6,115.6 247.9,107.6 249.3,112.6 251.0,117.0 252.7,118.4 253.0,109.9 254.4,113.8 256.1,116.5 257.8,121.3 259.5,121.1 259.8,117.0 261.1,119.9 262.8,123.3 264.5,124.0 264.9,116.0 266.2,120.3 267.9,123.2 269.6,125.8 270.0,118.8 271.3,122.3 273.0,125.5 274.7,127.1 275.0,118.5 276.4,122.7 278.1,127.3"/>
<polyline class="r" points="125.5,72.6 127.2,97.5 127.6,93.0 128.9,97.8 130.6,99.7 130.9,95.9 132.3,98.6 134.0,102.1 135.7,103.9 136.0,91.9 137.4,96.8 139.1,100.7 140.8,104.2 142.5,106.7 142.8,101.5 144.2,106.7 145.9,109.5 146.2,98.4 147.6,107.4 149.3,110.2 149.6,104.4 150.9,107.4 152.6,109.4 154.3,111.2 154.7,99.9 156.0,109.9 157.7,111.1 158.1,105.6 159.4,111.4 161.1,113.7 161.5,108.4 162.8,110.3 164.5,111.8 166.2,114.1 167.9,113.0 168.2,109.1 169.6,113.6 171.3,114.7 171.6,109.0 173.0,112.1 174.7,114.0 176.4,114.1"/>
<polyline class="r" points="176.4,75.2 178.1,85.6 179.8,95.1 181.5,101.4 181.8,92.1 183.2,97.7 184.9,103.4 186.6,105.5 186.9,96.6 188.2,100.0 189.9,104.0 191.6,105.3 193.3,108.4 193.7,102.3 195.0,106.9 196.7,108.8 197.1,100.8 198.4,107.6 200.1,108.1 200.5,101.4 201.8,104.7 203.5,107.1 205.2,111.0 206.9,109.8 207.2,105.4 208.6,110.4 210.3,112.2 210.6,102.4 212.0,107.4 213.7,112.0 215.4,112.7 215.7,101.6 217.1,107.4 218.8,112.8 220.5,113.7 220.8,103.6 222.2,111.9 223.8,113.0 224.2,108.2 225.5,111.1 227.2,112.4"/>
<polyline class="r" points="227.2,75.3 228.9,86.8 230.6,93.9 232.3,100.9 232.7,94.3 234.0,98.8 235.7,103.8 237.4,104.6 237.8,94.3 239.1,103.9 240.8,106.0 241.1,100.5 242.5,103.1 244.2,104.2 245.9,107.7 247.6,107.9 247.9,100.2 249.3,103.8 251.0,107.7 252.7,108.7 254.4,110.1 254.7,100.8 256.1,104.9 257.8,109.0 259.5,111.6 261.1,111.7 261.5,104.9 262.8,108.9 264.5,112.8 266.2,114.2 266.6,103.9 267.9,108.9 269.6,112.1 271.3,114.8 271.7,102.0 273.0,108.4 274.7,114.3 276.4,115.3 276.7,104.4 278.1,108.5"/>
<polyline class="r" points="59.4,66.1 61.1,79.3 62.8,85.6 64.5,85.4 66.2,84.0 67.9,79.5 69.6,84.6 71.3,94.5 73.0,94.0 74.7,93.6 76.4,102.5 78.0,106.5 79.7,109.2 81.4,113.1 83.1,121.3 84.8,123.9 86.5,128.9 88.2,133.3 89.9,140.7 91.6,140.6 93.3,139.8 95.0,148.7 96.7,147.7 98.4,159.9 100.1,163.9 101.8,173.2 103.5,166.3 105.2,176.2 106.9,174.5 108.6,181.4 110.3,186.8 112.0,193.5 113.7,197.7 115.3,200.9 117.0,208.1 118.7,210.1 120.4,215.0 122.1,214.3 123.8,221.8 125.5,229.0 127.2,237.3 128.9,242.0 130.6,247.3 132.3,251.3 134.0,255.0 135.7,255.8 137.4,255.8 139.1,255.8 140.8,255.8 142.5,255.8 144.2,255.8 145.9,255.8 147.6,255.8 149.3,255.8 150.9,255.8 152.6,255.8 154.3,255.8 156.0,255.8 157.7,255.8 159.4,255.8 161.1,255.8 162.8,255.8 164.5,255.8 166.2,255.8 167.9,255.8 169.6,255.8 171.3,255.8 173.0,255.8 174.7,255.8 176.4,255.8 178.1,255.8 179.8,255.8 181.5,255.8 183.2,255.8 184.9,255.8 186.6,255.8 188.2,255.8 189.9,255.8 191.6,255.8 193.3,255.8 195.0,255.8 196.7,255.8 198.4,255.8 200.1,255.8 201.8,255.8 203.5,255.8 205.2,255.8 206.9,255.8 208.6,255.8 210.3,255.8 212.0,255.8 213.7,255.8 215.4,255.8 217.1,255.8 218.8,255.8 220.5,255.8 222.2,255.8 223.8,255.8 225.5,255.8 227.2,255.8 228.9,255.8 230.6,255.8 232.3,255.8 234.0,255.8 235.7,255.8 237.4,255.8 239.1,255.8 240.8,255.8 242.5,255.8 244.2,255.8 245.9,255.8 247.6,255.8 249.3,255.8 251.0,255.8 252.7,255.8 254.4,255.8 256.1,255.8 257.8,255.8 259.5,255.8 261.1,255.8 262.8,255.8 264.5,255.8 266.2,255.8 267.9,255.8 269.6,255.8 271.3,255.8 273.0,255.8 274.7,255.8 276.4,255.8 278.1,255.8"/>
<polyline class="r" points="59.4,66.1 61.1,84.9 62.8,83.1 64.5,85.1 66.2,82.2 67.9,82.6 69.6,79.6 71.3,81.6 73.0,90.5 74.7,90.9 76.4,94.4 78.0,92.5 79.7,96.5 81.4,88.4 83.1,99.4 84.8,99.2 86.5,96.5 88.2,100.4 89.9,105.7 91.6,110.4 93.3,115.1 95.0,117.1 96.7,117.1 98.4,125.6 100.1,134.4 101.8,128.9 103.5,137.4 105.2,137.6 106.9,143.5 108.6,143.7 110.3,146.6 112.0,150.6 113.7,163.0 115.3,157.8 117.0,163.2 118.7,159.3 120.4,166.3 122.1,166.1 123.8,166.4 125.5,165.9"/>
<polyline class="rs" points="125.5,165.9 127.2,153.6 128.9,158.2 130.6,164.4 132.3,166.0 134.0,165.2 135.7,169.7 137.4,171.1 139.1,171.9 140.8,178.5 142.5,180.7 144.2,183.5 145.9,189.5 147.6,189.7 149.3,190.2 150.9,193.5 152.6,195.4 154.3,199.7 156.0,202.3 157.7,206.8 159.4,208.6 161.1,210.4 162.8,216.6 164.5,219.8 166.2,225.5 167.9,230.0 169.6,235.7 171.3,241.2 173.0,247.5 174.7,249.5 176.4,254.7 178.1,255.8"/>
<polyline class="r" points="178.1,255.8 179.8,255.8 181.5,255.8 183.2,255.8 184.9,255.8 186.6,255.8 188.2,255.8 189.9,255.8 191.6,255.8 193.3,255.8 195.0,255.8 196.7,255.8 198.4,255.8 200.1,255.8 201.8,255.8 203.5,255.8 205.2,255.8 206.9,255.8 208.6,255.8 210.3,255.8 212.0,255.8 213.7,255.8 215.4,255.8 217.1,255.8 218.8,255.8 220.5,255.8 222.2,255.8 223.8,255.8 225.5,255.8 227.2,255.8 228.9,255.8 230.6,255.8 232.3,255.8 234.0,255.8 235.7,255.8 237.4,255.8 239.1,255.8 240.8,255.8 242.5,255.8 244.2,255.8 245.9,255.8 247.6,255.8 249.3,255.8 251.0,255.8 252.7,255.8 254.4,255.8 256.1,255.8 257.8,255.8 259.5,255.8 261.1,255.8 262.8,255.8 264.5,255.8 266.2,255.8 267.9,255.8 269.6,255.8 271.3,255.8 273.0,255.8 274.7,255.8 276.4,255.8 278.1,255.8"/>
<polyline class="r" points="59.4,66.1 61.1,76.6 62.8,84.7 64.5,85.8 66.2,86.5 67.9,87.8 69.6,87.9 71.3,82.8 73.0,89.2 74.7,98.2 76.4,97.9 78.0,94.9 79.7,98.5 81.4,101.6 83.1,92.3 84.8,97.8 86.5,99.0 88.2,99.8 89.9,102.4 91.6,102.7 93.3,107.2 95.0,108.2 96.7,114.8 98.4,119.1 100.1,126.7 101.8,118.6 103.5,119.4 105.2,120.4 106.9,114.0 108.6,129.0 110.3,132.9 112.0,139.7 113.7,138.6 115.3,144.0 117.0,141.2 118.7,151.4 120.4,149.9 122.1,155.5 123.8,153.4 125.5,159.8 127.2,155.8 128.9,158.8 130.6,159.8 132.3,158.2 134.0,161.2 135.7,158.4 137.4,161.1 139.1,162.5 140.8,160.3 142.5,160.3 144.2,162.1 145.9,163.1 147.6,164.5 149.3,167.4 150.9,173.0 152.6,177.2 154.3,181.9 156.0,181.8 157.7,181.6 159.4,183.9 161.1,188.4 162.8,192.4 164.5,194.5 166.2,197.6 167.9,202.3 169.6,203.3 171.3,207.9 173.0,207.2 174.7,211.7 176.4,215.7 178.1,191.1 179.8,195.8 181.5,195.6 183.2,202.4 184.9,209.3 186.6,209.2 188.2,210.6 189.9,207.2 191.6,207.9 193.3,210.6 195.0,207.9 196.7,210.1 198.4,214.8 200.1,214.7 201.8,219.3 203.5,222.7 205.2,225.4 206.9,228.5 208.6,232.5 210.3,235.3 212.0,239.2 213.7,239.1 215.4,245.4 217.1,247.6 218.8,252.5 220.5,252.5 222.2,254.8 223.8,255.8 225.5,255.8 227.2,255.8 228.9,255.8 230.6,255.8 232.3,255.8 234.0,255.8 235.7,255.8 237.4,255.8 239.1,255.8 240.8,255.8 242.5,255.8 244.2,255.8 245.9,255.8 247.6,255.8 249.3,255.8 251.0,255.8 252.7,255.8 254.4,255.8 256.1,255.8 257.8,255.8 259.5,255.8 261.1,255.8 262.8,255.8 264.5,255.8 266.2,255.8 267.9,255.8 269.6,255.8 271.3,255.8 273.0,255.8 274.7,255.8 276.4,255.8 278.1,255.8"/>
<polyline class="r" points="59.4,66.1 61.1,67.0 62.8,81.0 64.5,85.8 66.2,83.8 67.9,86.0 69.6,94.2 71.3,89.6 73.0,94.4 74.7,87.4 76.4,93.6 78.0,91.2 79.7,90.0 81.4,92.2 83.1,99.5 84.8,99.1 86.5,100.3 88.2,100.5 89.9,110.6 91.6,103.5 93.3,103.1 95.0,105.5 96.7,100.7 98.4,104.0 100.1,101.2 101.8,98.3 103.5,105.2 105.2,99.5 106.9,100.1 108.6,107.5 110.3,105.0 112.0,109.2 113.7,111.5 115.3,107.9 117.0,112.6 118.7,115.9 120.4,118.5 122.1,110.8 123.8,118.1 125.5,121.3"/>
<polyline class="rs" points="125.5,121.3 127.2,123.3 128.9,127.9 130.6,129.5 132.3,129.0 134.0,130.4 135.7,131.1 137.4,129.2 139.1,126.1 140.8,129.8 142.5,134.1 144.2,139.7 145.9,144.7 147.6,145.0 149.3,146.4 150.9,148.5 152.6,151.2 154.3,151.9 156.0,154.8 157.7,157.4 159.4,157.2 161.1,161.0 162.8,160.9 164.5,162.7 166.2,166.8 167.9,167.4 169.6,167.9 171.3,169.3 173.0,169.8 174.7,173.9 176.4,173.8 178.1,173.3 179.8,171.5 181.5,175.4 183.2,179.3 184.9,181.1 186.6,183.9 188.2,189.3 189.9,187.2 191.6,186.7 193.3,183.0 195.0,185.8 196.7,190.6 198.4,190.3 200.1,192.8 201.8,193.8 203.5,194.6 205.2,195.8 206.9,197.3 208.6,201.0 210.3,204.7 212.0,206.9 213.7,210.1 215.4,214.4 217.1,213.2 218.8,213.7 220.5,214.9 222.2,220.6 223.8,223.4 225.5,224.8 227.2,226.0 228.9,226.7 230.6,225.6 232.3,230.4 234.0,230.3 235.7,229.5 237.4,232.6 239.1,233.2 240.8,237.1 242.5,239.3 244.2,240.3 245.9,240.7 247.6,241.2 249.3,243.1 251.0,243.8 252.7,245.1 254.4,248.9 256.1,251.1 257.8,254.2 259.5,255.8"/>
<polyline class="r" points="259.5,255.8 261.1,255.8 262.8,255.8 264.5,255.8 266.2,255.8 267.9,255.8 269.6,255.8 271.3,255.8 273.0,255.8 274.7,255.8 276.4,255.8 278.1,255.8"/>
<polyline class="r" points="59.4,66.1 61.1,78.2 62.8,85.1 64.5,87.4 66.2,84.5 67.9,84.8 69.6,84.1 71.3,83.4 73.0,88.2 74.7,84.5 76.4,93.3 78.0,95.6 79.7,95.4 81.4,105.1 83.1,89.5 84.8,96.9 86.5,92.3 88.2,98.4 89.9,101.3 91.6,99.9 93.3,102.3 95.0,102.6 96.7,105.2 98.4,101.7 100.1,104.5 101.8,107.9 103.5,107.0 105.2,114.4 106.9,112.7 108.6,108.2 110.3,112.6 112.0,111.7 113.7,111.4 115.3,114.5 117.0,115.9 118.7,115.6 120.4,118.8 122.1,126.1 123.8,119.5 125.5,123.4"/>
<polyline class="rs" points="125.5,123.4 127.2,125.8 128.9,127.4 130.6,130.2 132.3,133.0 134.0,134.6 135.7,135.2 137.4,132.5 139.1,131.1 140.8,132.2 142.5,132.6 144.2,139.4 145.9,144.7 147.6,144.4 149.3,145.5 150.9,148.8 152.6,150.7 154.3,150.5 156.0,152.6 157.7,156.1 159.4,156.5 161.1,161.7 162.8,163.4 164.5,166.5 166.2,168.5 167.9,168.8 169.6,171.0 171.3,173.3 173.0,175.5 174.7,178.8 176.4,178.0 178.1,179.6 179.8,180.0 181.5,183.5 183.2,187.4 184.9,191.8 186.6,192.5 188.2,189.3 189.9,189.4 191.6,189.4 193.3,196.2 195.0,202.0 196.7,200.9 198.4,202.5 200.1,205.9 201.8,206.7 203.5,203.6 205.2,204.7 206.9,203.1 208.6,208.9 210.3,210.6 212.0,210.9 213.7,213.8 215.4,218.5 217.1,219.3 218.8,223.8 220.5,221.2 222.2,220.8 223.8,221.3 225.5,225.9 227.2,229.4 228.9,230.3 230.6,229.7 232.3,233.6 234.0,233.3 235.7,237.5 237.4,237.5 239.1,235.4 240.8,238.7 242.5,240.0 244.2,241.8 245.9,241.1 247.6,241.6 249.3,242.6 251.0,241.4 252.7,242.9 254.4,245.3 256.1,246.3 257.8,247.6 259.5,252.7 261.1,255.8"/>
<polyline class="r" points="261.1,255.8 262.8,255.8 264.5,255.8 266.2,255.8 267.9,255.8 269.6,255.8 271.3,255.8 273.0,255.8 274.7,255.8 276.4,255.8 278.1,255.8"/>
</g>
<rect class="fr" x="59.4" y="54.0" width="218.7" height="217.3"/>
<line class="tk" x1="59.4" y1="85.0" x2="67.2" y2="85.0"/>
<line class="tk" x1="278.1" y1="85.0" x2="270.3" y2="85.0"/>
<line class="tk" x1="59.4" y1="147.1" x2="67.2" y2="147.1"/>
<line class="tk" x1="278.1" y1="147.1" x2="270.3" y2="147.1"/>
<line class="tk" x1="59.4" y1="209.2" x2="67.2" y2="209.2"/>
<line class="tk" x1="278.1" y1="209.2" x2="270.3" y2="209.2"/>
<line class="tk" x1="59.4" y1="271.3" x2="67.2" y2="271.3"/>
<line class="tk" x1="278.1" y1="271.3" x2="270.3" y2="271.3"/>
<line class="tk" x1="142.5" y1="271.3" x2="142.5" y2="263.5"/>
<line class="tk" x1="142.5" y1="54.0" x2="142.5" y2="61.8"/>
<line class="tk" x1="227.2" y1="271.3" x2="227.2" y2="263.5"/>
<line class="tk" x1="227.2" y1="54.0" x2="227.2" y2="61.8"/>
<text class="t" x="53.1" y="91.0" text-anchor="end">10<tspan class="mn" dx="0.1" dy="-4.5">−</tspan><tspan class="sup" dx="0.3" dy="-0.8">3</tspan></text>
<text class="t" x="53.1" y="153.1" text-anchor="end">10<tspan class="mn" dx="0.1" dy="-4.5">−</tspan><tspan class="sup" dx="0.3" dy="-0.8">7</tspan></text>
<text class="t" x="53.1" y="215.2" text-anchor="end">10<tspan class="mn" dx="0.1" dy="-4.5">−</tspan><tspan class="sup" dx="0.3" dy="-0.8">11</tspan></text>
<text class="t" x="53.1" y="277.3" text-anchor="end">10<tspan class="mn" dx="0.1" dy="-4.5">−</tspan><tspan class="sup" dx="0.3" dy="-0.8">15</tspan></text>
<text class="t" x="142.5" y="286.7" text-anchor="middle">50</text>
<text class="t" x="227.2" y="286.7" text-anchor="middle">100</text>
<text class="t al" x="169.2" y="306.7" text-anchor="middle">iteration</text>
<text class="t al" transform="translate(12.8,163.8) rotate(-90)" text-anchor="middle">relative residual</text>
<g clip-path="url(#cr)">
<line class="bl" x1="408.3" y1="53.6" x2="408.3" y2="271.0"/>
<line class="bl" x1="456.6" y1="53.6" x2="456.6" y2="271.0"/>
<line class="bl" x1="504.9" y1="53.6" x2="504.9" y2="271.0"/>
<polyline class="k2" points="345.5,268.6 408.3,152.9"/>
<polyline class="k2" points="408.3,157.3 456.6,71.6"/>
<polyline class="k2" points="456.6,148.1 504.9,62.4"/>
<polyline class="k2" points="504.9,145.2 553.2,59.5"/>
<polyline class="r2" points="345.5,268.6 408.3,152.9"/>
<polyline class="r2" points="408.3,207.6 455.0,125.8"/>
<polyline class="r2" points="456.6,207.6 503.3,125.8"/>
<polyline class="r2" points="504.9,207.6 553.2,122.9"/>
</g>
<rect class="fr" x="345.5" y="53.6" width="207.7" height="217.4"/>
<line class="tk" x1="345.5" y1="271.0" x2="353.3" y2="271.0"/>
<line class="tk" x1="553.2" y1="271.0" x2="545.4" y2="271.0"/>
<text class="t" x="340.5" y="276.3" text-anchor="end">0</text>
<line class="tk" x1="345.5" y1="174.2" x2="353.3" y2="174.2"/>
<line class="tk" x1="553.2" y1="174.2" x2="545.4" y2="174.2"/>
<text class="t" x="340.5" y="179.5" text-anchor="end">20</text>
<line class="tk" x1="345.5" y1="77.4" x2="353.3" y2="77.4"/>
<line class="tk" x1="553.2" y1="77.4" x2="545.4" y2="77.4"/>
<text class="t" x="340.5" y="82.7" text-anchor="end">40</text>
<line class="tk" x1="424.4" y1="271.0" x2="424.4" y2="263.2"/>
<line class="tk" x1="424.4" y1="53.6" x2="424.4" y2="61.4"/>
<text class="t" x="424.4" y="286.7" text-anchor="middle">50</text>
<line class="tk" x1="504.9" y1="271.0" x2="504.9" y2="263.2"/>
<line class="tk" x1="504.9" y1="53.6" x2="504.9" y2="61.4"/>
<text class="t" x="504.9" y="286.7" text-anchor="middle">100</text>
<text class="t al" x="449.4" y="306.7" text-anchor="middle">iteration</text>
<text class="t al" transform="translate(316.6,162.5) rotate(-90)" text-anchor="middle">MB</text>
<rect class="lg" x="88.0" y="1.5" width="161.7" height="45.5" rx="1.2"/>
<line class="k2" x1="94" y1="14.1" x2="126.8" y2="14.1"/>
<line class="r2" x1="94" y1="33.5" x2="126.8" y2="33.5"/>
<text class="t lgt" x="131.0" y="17.9">Implicit restart</text>
<text class="t lgt" x="131.0" y="36.9">Semi-explicit restart</text>
</svg>
</body></html>
